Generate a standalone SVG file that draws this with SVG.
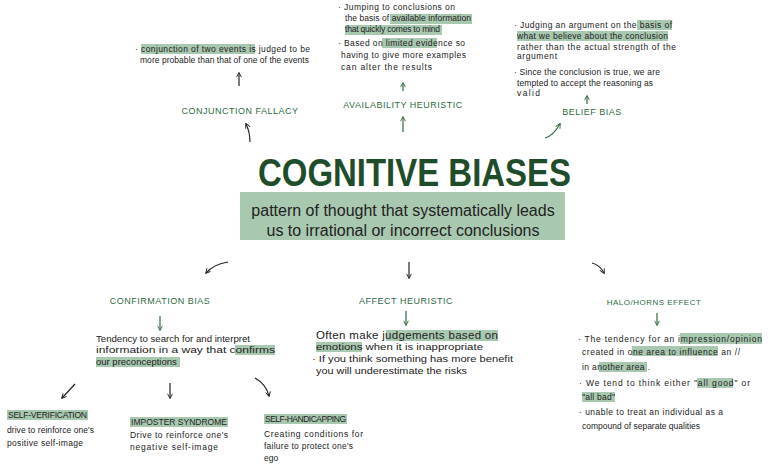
<svg xmlns="http://www.w3.org/2000/svg" width="768" height="469" viewBox="0 0 768 469">
<defs>
<style>
.t{font-family:"Liberation Sans",Arial,sans-serif;font-size:8.5px;fill:#222}
.m{font-family:"Liberation Sans",Arial,sans-serif;font-size:11.5px;fill:#222}
.g{font-family:"Liberation Sans",Arial,sans-serif;font-size:9px;fill:#2f6b3f;text-anchor:middle;letter-spacing:0.5px}
.hl{fill:#a9c8b0}
.ar{fill:none;stroke:#2f6b3f;stroke-width:1.2;marker-end:url(#ah)}
.ak{fill:none;stroke:#222;stroke-width:1.2;marker-end:url(#ak)}
</style>
<marker id="ah" viewBox="0 0 10 10" refX="8" refY="5" markerWidth="5" markerHeight="5" orient="auto"><path d="M1,1L9,5L1,9" fill="none" stroke="#2f6b3f" stroke-width="1.5"/></marker>
<marker id="ak" viewBox="0 0 10 10" refX="8" refY="5" markerWidth="5" markerHeight="5" orient="auto"><path d="M1,1L9,5L1,9" fill="none" stroke="#222" stroke-width="1.5"/></marker>
</defs>
<rect width="768" height="469" fill="#fff"/>
<g id="connectors">
<path class="ak" d="M239,86V73"/>
<path class="ak" d="M250,142Q250,132 246,124"/>
<path class="ar" d="M403,91V83"/>
<path class="ar" d="M403,132V117"/>
<path class="ar" d="M587,104V96"/>
<path class="ar" d="M545,138Q553,136 560,124"/>
<path class="ak" d="M228,262Q214,264 206,273"/>
<path class="ak" d="M409,262V278"/>
<path class="ak" d="M592,263Q600,265 604,273"/>
<path class="ar" d="M160,316V330"/>
<path class="ak" d="M75,384L62,398"/>
<path class="ak" d="M170,383V398"/>
<path class="ak" d="M255,378Q266,384 269,396"/>
<path class="ar" d="M406,311V325"/>
<path class="ar" d="M657,313V325"/>
</g>
<g id="title">
<text x="258" y="186" style="font-family:'Liberation Sans',Arial,sans-serif;font-size:38px;font-weight:bold;fill:#1f4d2b" textLength="313" lengthAdjust="spacingAndGlyphs">COGNITIVE BIASES</text>
<rect x="240" y="192" width="325" height="48" class="hl"/>
<text x="403" y="216" text-anchor="middle" style="font-family:'Liberation Sans',Arial,sans-serif;font-size:16px;fill:#222">pattern of thought that systematically leads</text>
<text x="403" y="236" text-anchor="middle" style="font-family:'Liberation Sans',Arial,sans-serif;font-size:16px;fill:#222">us to irrational or incorrect conclusions</text>
</g>
<g id="conjunction">
<rect class="hl" x="141" y="44" width="114" height="10"/>
<text class="t" x="135" y="52" textLength="175">· conjunction of two events is judged to be</text>
<text class="t" x="140" y="63" textLength="169">more probable than that of one of the events</text>
<text class="g" x="240" y="114">CONJUNCTION FALLACY</text>
</g>
<g id="availability">
<rect class="hl" x="390" y="14" width="82" height="10"/>
<rect class="hl" x="345" y="25" width="97" height="10"/>
<rect class="hl" x="382" y="38" width="55" height="10"/>
<text class="t" x="338" y="10" textLength="117">· Jumping to conclusions on</text>
<text class="t" x="345" y="21" textLength="126">the basis of available information</text>
<text class="t" x="345" y="32" textLength="95">that quickly comes to mind</text>
<text class="t" x="338" y="46" textLength="127">· Based on limited evidence so</text>
<text class="t" x="341" y="58" textLength="125">having to give more examples</text>
<text class="t" x="341" y="70" textLength="91">can alter the results</text>
<text class="g" x="403" y="108">AVAILABILITY HEURISTIC</text>
</g>
<g id="belief">
<rect class="hl" x="637" y="20" width="35" height="10"/>
<rect class="hl" x="517" y="31" width="151" height="10"/>
<text class="t" x="514" y="28" textLength="158">· Judging an argument on the basis of</text>
<text class="t" x="517" y="39" textLength="151">what we believe about the conclusion</text>
<text class="t" x="517" y="50" textLength="159">rather than the actual strength of the</text>
<text class="t" x="517" y="59" textLength="40">argument</text>
<text class="t" x="514" y="75" textLength="146">· Since the conclusion is true, we are</text>
<text class="t" x="517" y="86" textLength="136">tempted to accept the reasoning as</text>
<text class="t" x="517" y="96" textLength="23">valid</text>
<text class="g" x="592" y="115">BELIEF BIAS</text>
</g>
<g id="confirmation">
<rect class="hl" x="235" y="345" width="40" height="10"/>
<rect class="hl" x="96" y="357" width="84" height="10"/>
<text class="g" x="160" y="304">CONFIRMATION BIAS</text>
<text class="t" x="96" y="342" style="font-size:9.5px" textLength="154" lengthAdjust="spacingAndGlyphs">Tendency to search for and interpret</text>
<text class="t" x="96" y="353" style="font-size:9.5px" textLength="179" lengthAdjust="spacingAndGlyphs">information in a way that confirms</text>
<text class="t" x="96" y="365" style="font-size:9.5px">our preconceptions</text>
</g>
<g id="selfverification">
<rect class="hl" x="7" y="410" width="81" height="10"/>
<text class="t" x="8" y="418" textLength="79">SELF-VERIFICATION</text>
<text class="t" x="7" y="433" textLength="87">drive to reinforce one's</text>
<text class="t" x="7" y="446" textLength="76">positive self-image</text>
</g>
<g id="imposter">
<rect class="hl" x="130" y="417" width="98" height="10"/>
<text class="t" x="131" y="425" textLength="96">IMPOSTER SYNDROME</text>
<text class="t" x="130" y="438" textLength="98">Drive to reinforce one's</text>
<text class="t" x="130" y="450" textLength="88">negative self-image</text>
</g>
<g id="selfhandicapping">
<rect class="hl" x="264" y="414" width="83" height="10"/>
<text class="t" x="265" y="422" textLength="81">SELF-HANDICAPPING</text>
<text class="t" x="264" y="437" textLength="99">Creating conditions for</text>
<text class="t" x="264" y="449" textLength="89">failure to protect one's</text>
<text class="t" x="264" y="461">ego</text>
</g>
<g id="affect">
<rect class="hl" x="386" y="330" width="112" height="11"/>
<rect class="hl" x="316" y="342" width="46" height="10"/>
<text class="g" x="406" y="304">AFFECT HEURISTIC</text>
<text class="m" x="316" y="339" textLength="182">Often make judgements based on</text>
<text class="t" x="316" y="350" style="font-size:9.5px" textLength="167" lengthAdjust="spacingAndGlyphs">emotions when it is inappropriate</text>
<text class="t" x="312" y="362" style="font-size:9.5px" textLength="201" lengthAdjust="spacingAndGlyphs">· If you think something has more benefit</text>
<text class="t" x="316" y="374" style="font-size:9.5px" textLength="151" lengthAdjust="spacingAndGlyphs">you will underestimate the risks</text>
</g>
<g id="halo">
<rect class="hl" x="680" y="333" width="82" height="11"/>
<rect class="hl" x="632" y="346" width="86" height="10"/>
<rect class="hl" x="599" y="362" width="48" height="10"/>
<rect class="hl" x="697" y="378" width="36" height="10"/>
<rect class="hl" x="582" y="392" width="33" height="10"/>
<text class="g" x="654" y="305" style="font-size:8px">HALO/HORNS EFFECT</text>
<text class="t" x="578" y="342" textLength="184">· The tendency for an impression/opinion</text>
<text class="t" x="582" y="355" textLength="158">created in one area to influence an //</text>
<text class="t" x="582" y="370" textLength="68">in another area .</text>
<text class="t" x="579" y="386" textLength="171">· We tend to think either "all good" or</text>
<text class="t" x="582" y="400" textLength="33">"all bad"</text>
<text class="t" x="579" y="415" textLength="144">· unable to treat an individual as a</text>
<text class="t" x="582" y="429" textLength="118">compound of separate qualities</text>
</g>
</svg>
